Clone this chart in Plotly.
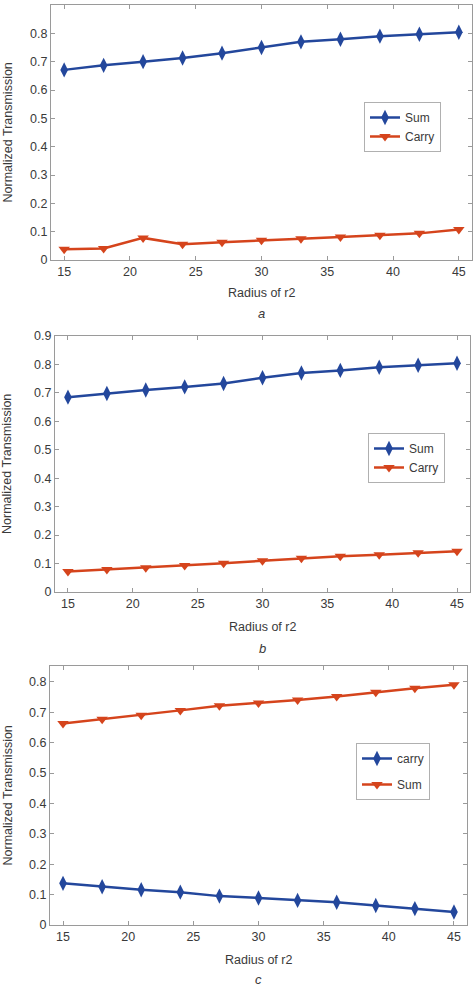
import plotly.graph_objects as go

# radius values (same for all three panels)
radius = [15, 18, 21, 24, 27, 30, 33, 36, 39, 42, 45]

# panel a
sum_a = [0.671, 0.687, 0.700, 0.713, 0.730, 0.750, 0.770, 0.779, 0.790, 0.797, 0.804]
carry_a = [0.038, 0.041, 0.078, 0.056, 0.063, 0.070, 0.075, 0.081, 0.087, 0.094, 0.108]

# panel b
sum_b = [0.685, 0.698, 0.710, 0.721, 0.733, 0.753, 0.770, 0.779, 0.790, 0.797, 0.804]
carry_b = [0.072, 0.079, 0.085, 0.093, 0.101, 0.110, 0.119, 0.126, 0.131, 0.138, 0.143]

# panel c
carry_c = [0.137, 0.126, 0.116, 0.108, 0.095, 0.089, 0.081, 0.075, 0.064, 0.054, 0.043]
sum_c = [0.663, 0.677, 0.690, 0.706, 0.721, 0.730, 0.740, 0.752, 0.766, 0.779, 0.790]

panel_tags = ["a", "b", "c"]
x_title = "Radius of r2"
y_title = "Normalized Transmission"

W, H = 474, 988
BLUE = "#23479c"
RED = "#d5441c"
GRID = "#9a9a9a"
TXT = "#3a3a3a"
FONT = "Liberation Sans, Arial, sans-serif"

# pixel boxes of each plot area: (left, right, top, bottom)
boxes = [(51, 472, 5, 260), (55, 470, 336, 592), (50, 467, 666, 925)]
yranges = [[0, 0.9], [0, 0.9], [0, 0.852]]
legend_pos = [(364, 102), (368, 433), (356, 743)]
legend_gap = [0, 0, 7]
xlab_y = [293, 627, 960]
tag_y = [313, 648, 979]


def px(x):
    return x / W


def py(y):
    return 1 - y / H


series = [
    [("Sum", sum_a, BLUE, "diamond-tall"), ("Carry", carry_a, RED, "triangle-down")],
    [("Sum", sum_b, BLUE, "diamond-tall"), ("Carry", carry_b, RED, "triangle-down")],
    [("carry", carry_c, BLUE, "diamond-tall"), ("Sum", sum_c, RED, "triangle-down")],
]

fig = go.Figure()
annotations = []

for i, (box, traces) in enumerate(zip(boxes, series)):
    n = "" if i == 0 else str(i + 1)
    leg = "legend" + n
    for k, (name, vals, col, sym) in enumerate(traces):
        fig.add_trace(go.Scatter(
            x=radius, y=vals, name=name, mode="lines+markers",
            line=dict(color=col, width=2.5),
            marker=dict(symbol=sym, size=11 if "diamond" in sym else 10,
                        color=col),
            xaxis="x" + n, yaxis="y" + n, legend=leg,
            legendgroup="g%d%d" % (i, k),
        ))
    l, r, t, b = box
    axis_common = dict(
        showline=True, linecolor=GRID, linewidth=1, mirror="ticks",
        ticks="inside", ticklen=4, tickcolor=GRID,
        showgrid=False, zeroline=False, automargin=False,
        tickfont=dict(family=FONT, size=12.5, color=TXT),
    )
    fig.layout["xaxis" + n] = dict(
        domain=[px(l), px(r)], range=[14, 46], dtick=5, tick0=0,
        anchor="y" + n, **axis_common)
    fig.layout["yaxis" + n] = dict(
        domain=[py(b), py(t)], range=yranges[i], dtick=0.1, tick0=0,
        anchor="x" + n, **axis_common)
    lx, ly = legend_pos[i]
    fig.layout[leg] = dict(
        x=px(lx), y=py(ly), xanchor="left", yanchor="top",
        bgcolor="white", bordercolor="#b0b0b0", borderwidth=1,
        font=dict(family=FONT, size=12, color=TXT),
        tracegroupgap=legend_gap[i],
    )
    cx = (l + r) / 2
    common = dict(xref="paper", yref="paper", showarrow=False,
                  xanchor="center", yanchor="middle")
    annotations.append(dict(
        text=x_title, x=px(cx), y=py(xlab_y[i]),
        font=dict(family=FONT, size=12.5, color=TXT), **common))
    annotations.append(dict(
        text="<i>" + panel_tags[i] + "</i>", x=px(cx), y=py(tag_y[i]),
        font=dict(family=FONT, size=13, color=TXT), **common))
    annotations.append(dict(
        text=y_title, x=px(7), y=py((t + b) / 2), textangle=-90,
        font=dict(family=FONT, size=12.5, color=TXT), **common))

fig.update_layout(
    template="none",
    width=W, height=H, margin=dict(l=0, r=0, t=0, b=0, pad=0),
    plot_bgcolor="white", paper_bgcolor="white",
    annotations=annotations, showlegend=True,
)

# drop the browser's default page margin so the figure fills the window
page_css = (
    "document.documentElement.style.margin='0';"
    "document.body.style.margin='0';document.body.style.padding='0';"
    "document.body.style.overflow='hidden';"
)
fig.write_html("out.html", post_script=page_css,
               config={"displayModeBar": False})
